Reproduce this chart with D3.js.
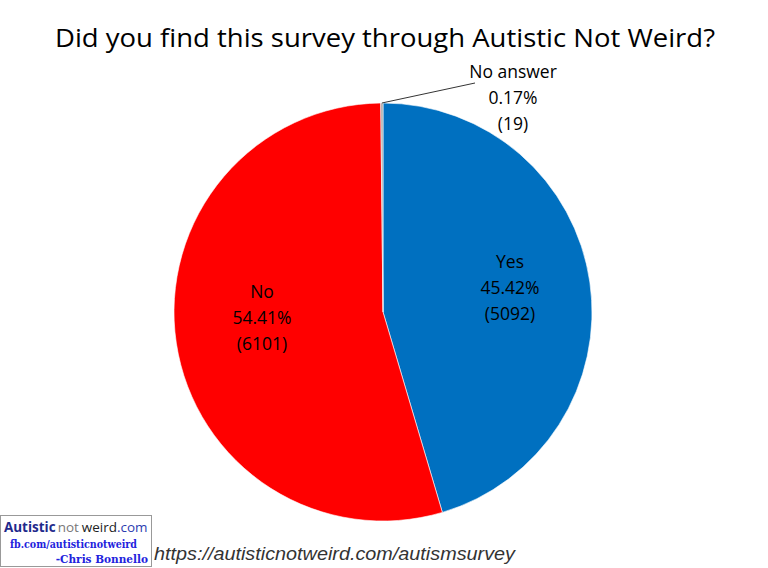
<!DOCTYPE html>
<html><head><meta charset="utf-8">
<script src="https://cdn.jsdelivr.net/npm/d3@7"></script>
<style>body{margin:0;background:#fff}svg{display:block}</style>
</head><body>
<script>
const categories = ["Yes", "No", "No answer"];
const counts = [5092, 6101, 19];
const percents = ["45.42%", "54.41%", "0.17%"];
const colors = ["#0070C0", "#FF0000", "#A5A5A5"];

const W = 768, H = 568;
const svg = d3.select("body").append("svg").attr("width", W).attr("height", H);
const font = "'Open Sans', Calibri, sans-serif";

svg.append("text").attr("x", 385).attr("y", 47).attr("text-anchor", "middle")
  .attr("font-family", font).attr("font-size", 25).attr("fill", "#000")
  .attr("textLength", 660).attr("lengthAdjust", "spacingAndGlyphs")
  .text("Did you find this survey through Autistic Not Weird?");

const cx = 383, cy = 312, r = 209;
const data = categories.map((c, i) => ({cat: c, value: counts[i], pct: percents[i], color: colors[i]}));
const pie = d3.pie().sort(null).value(d => d.value);
const arcs = pie(data);
const arc = d3.arc().innerRadius(0).outerRadius(r);
const g = svg.append("g").attr("transform", `translate(${cx},${cy})`);
g.selectAll("path").data(arcs).enter().append("path")
  .attr("d", arc).attr("fill", d => d.data.color)
  .attr("stroke", "#fff").attr("stroke-width", 0.6);

// labels
const labelPos = {"Yes": [127, -44], "No": [-121, -14]};
arcs.forEach(a => {
  const d = a.data;
  let x, y;
  if (labelPos[d.cat]) { [x, y] = labelPos[d.cat]; }
  else { x = 130; y = -234; }
  const t = g.append("text").attr("text-anchor", "middle")
    .attr("font-family", font).attr("font-size", 17.5).attr("fill", "#000");
  [d.cat, d.pct, "(" + d.value + ")"].forEach((s, i) => {
    t.append("tspan").attr("x", x).attr("y", y + i * 26).text(s);
  });
  if (!labelPos[d.cat]) {
    const mid = (a.startAngle + a.endAngle) / 2;
    g.append("line")
      .attr("x1", r * Math.sin(mid)).attr("y1", -r * Math.cos(mid))
      .attr("x2", 92).attr("y2", -229)
      .attr("stroke", "#000").attr("stroke-width", 0.8);
  }
});

// watermark
const wm = svg.append("g");
wm.append("rect").attr("x", 0.5).attr("y", 515.5).attr("width", 151).attr("height", 51)
  .attr("fill", "#fff").attr("stroke", "#999");
const parts = [
  {s: "Autistic", gap: 2, fill: "#1F2A8C", bold: true},
  {s: "not", gap: 3, fill: "#777", bold: false},
  {s: "weird", gap: 0, fill: "#222", bold: false},
  {s: ".com", gap: 0, fill: "#2B3CB0", bold: false}
];
// measure at base size, then scale to fit the box
const base = 15;
const els = parts.map(p => wm.append("text").attr("y", 532).attr("font-family", "'Open Sans', sans-serif")
    .attr("font-size", base).attr("font-weight", p.bold ? "bold" : "normal").attr("fill", p.fill).text(p.s));
const widths = els.map(e => e.node().getComputedTextLength());
const total = d3.sum(widths) + d3.sum(parts, p => p.gap);
const k = Math.min(1, 143 / total);
let xx = 4;
els.forEach((e, i) => {
  e.attr("font-size", base * k).attr("x", xx);
  xx += widths[i] * k + parts[i].gap;
});
wm.append("text").attr("x", 10).attr("y", 548).attr("font-family", "'DejaVu Serif', serif")
  .attr("font-weight", "bold").attr("font-size", 10.5).attr("fill", "#2222DD")
  .attr("textLength", 127).attr("lengthAdjust", "spacingAndGlyphs").text("fb.com/autisticnotweird");
wm.append("text").attr("x", 148).attr("y", 563).attr("text-anchor", "end").attr("font-family", "'DejaVu Serif', serif")
  .attr("font-weight", "bold").attr("font-size", 10.5).attr("fill", "#2222DD").text("-Chris Bonnello");

svg.append("text").attr("x", 154).attr("y", 560).attr("font-family", "'Liberation Sans', Arial, sans-serif")
  .attr("font-style", "italic").attr("font-size", 19).attr("fill", "#333")
  .attr("textLength", 361).attr("lengthAdjust", "spacingAndGlyphs")
  .text("https://autisticnotweird.com/autismsurvey");
</script>
</body></html>
